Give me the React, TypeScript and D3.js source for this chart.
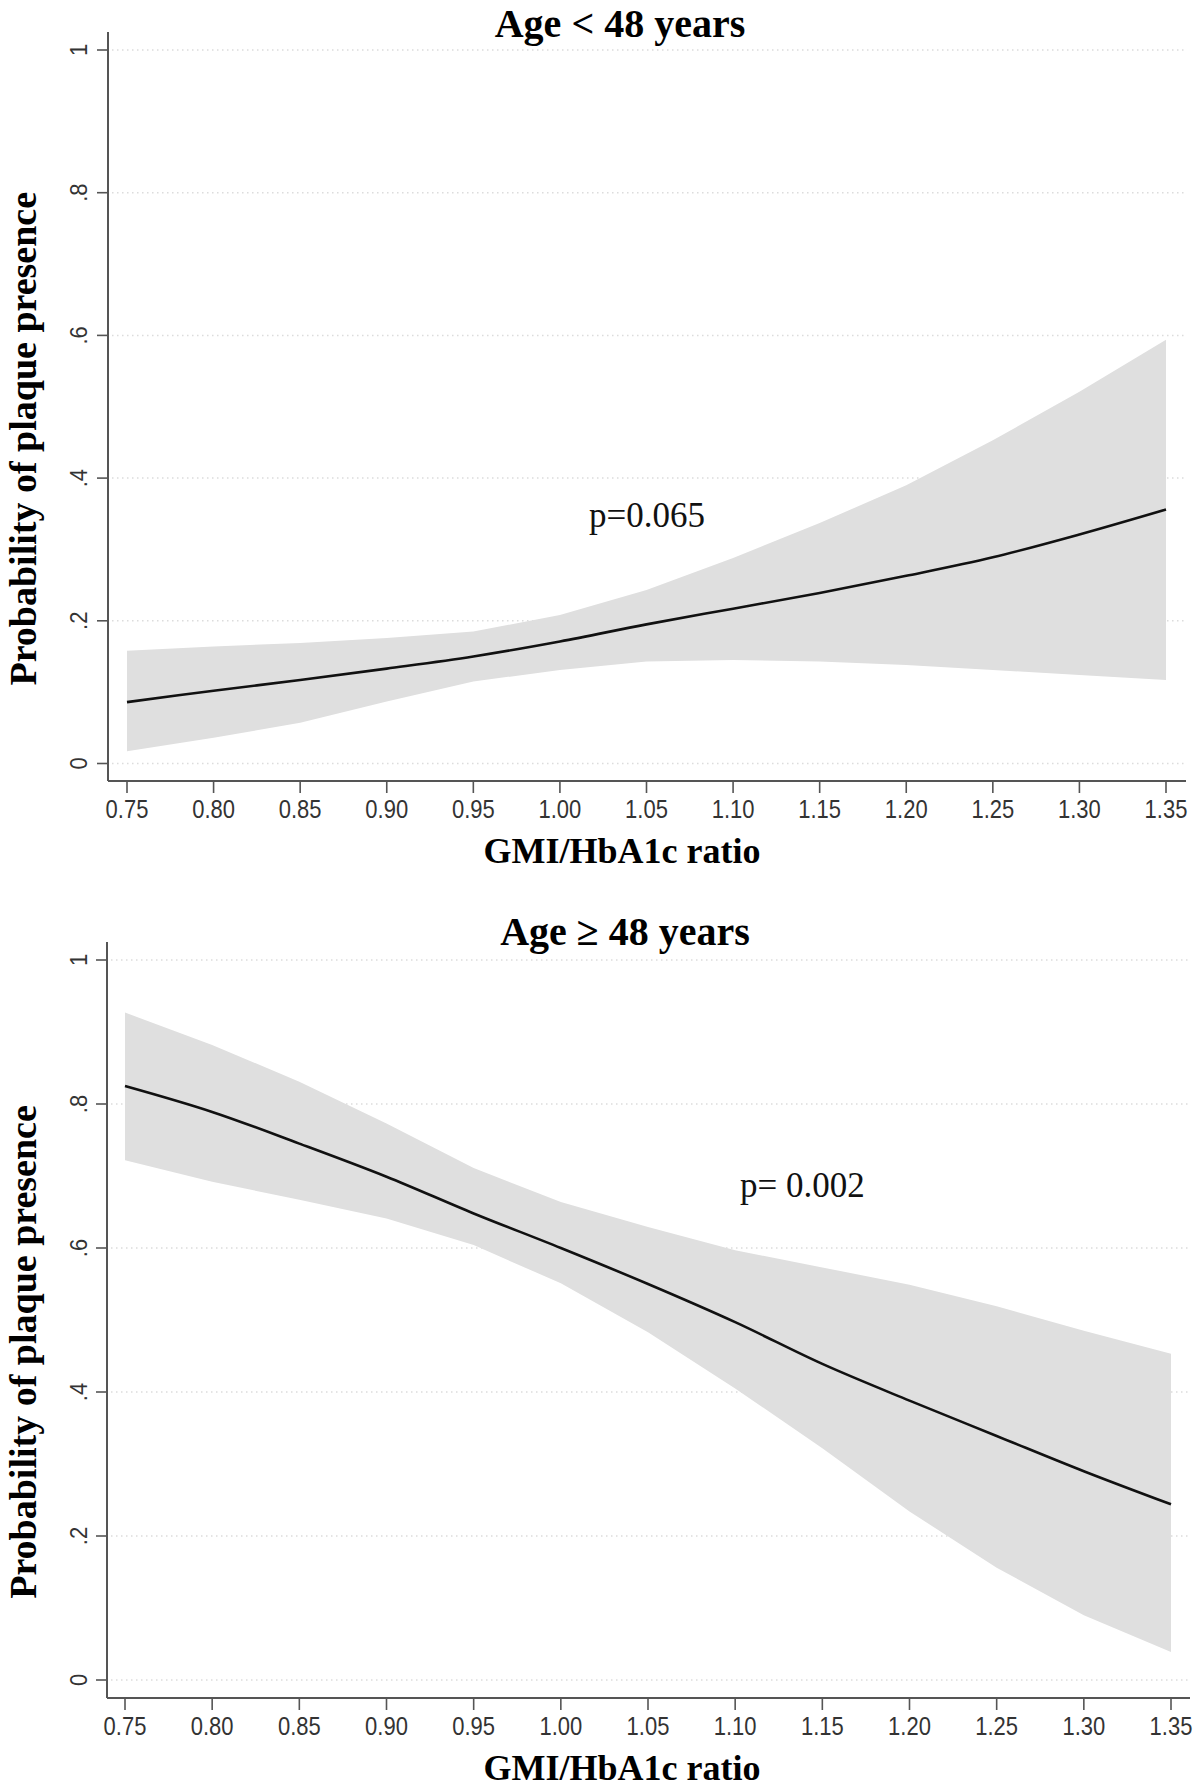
import React from 'react';
import * as d3 from 'd3';

// GMI/HbA1c ratio values where the predictions are read
const ratios = [0.75, 0.8, 0.85, 0.9, 0.95, 1.0, 1.05, 1.1, 1.15, 1.2, 1.25, 1.3, 1.35];
const xTicks = ratios;
const yTicks = [0, 0.2, 0.4, 0.6, 0.8, 1];
const yTickLabels = ['0', '.2', '.4', '.6', '.8', '1'];

// Age < 48 years
const youngFit = [0.086, 0.102, 0.117, 0.133, 0.150, 0.171, 0.195, 0.217, 0.239, 0.263, 0.289, 0.321, 0.356];
const youngUpper = [0.158, 0.164, 0.169, 0.176, 0.185, 0.208, 0.243, 0.288, 0.337, 0.390, 0.453, 0.521, 0.594];
const youngLower = [0.017, 0.036, 0.057, 0.087, 0.115, 0.131, 0.143, 0.145, 0.143, 0.138, 0.131, 0.124, 0.117];

// Age >= 48 years
const oldFit = [0.825, 0.789, 0.745, 0.699, 0.648, 0.600, 0.550, 0.497, 0.439, 0.388, 0.339, 0.290, 0.244];
const oldUpper = [0.927, 0.882, 0.831, 0.773, 0.711, 0.664, 0.629, 0.597, 0.573, 0.549, 0.519, 0.485, 0.453];
const oldLower = [0.722, 0.692, 0.667, 0.641, 0.604, 0.551, 0.483, 0.405, 0.322, 0.234, 0.156, 0.090, 0.039];

const SANS = 'Liberation Sans, Arial, Helvetica, sans-serif';
const SERIF = 'Liberation Serif, Times New Roman, serif';

interface Layout {
    y1: number; y0: number; axisTop: number; axisY: number;
    xLeft: number; xRight: number; axisX: number; axisRight: number;
    titleX: number; titleY: number;
    pX: number; pY: number;
}

interface PanelProps {
    title: string;
    pText: string;
    fit: number[];
    upper: number[];
    lower: number[];
    l: Layout;
}

const Panel: React.FC<PanelProps> = ({ title, pText, fit, upper, lower, l }) => {
    const x = d3.scaleLinear().domain([0.75, 1.35]).range([l.xLeft, l.xRight]);
    const y = d3.scaleLinear().domain([0, 1]).range([l.y0, l.y1]);

    const band = d3.area<number>()
        .x((d, i) => x(ratios[i]))
        .y0((d, i) => y(lower[i]))
        .y1((d) => y(d));

    const line = d3.line<number>()
        .x((d, i) => x(ratios[i]))
        .y((d) => y(d))
        .curve(d3.curveCatmullRom);

    const midY = (l.y0 + l.y1) / 2 + 32;

    return (
        <g>
            {/* dotted grid */}
            {yTicks.map(t => (
                <line key={'g' + t} x1={l.axisX + 4} x2={l.axisRight} y1={y(t)} y2={y(t)}
                    stroke="#dcdcdc" strokeWidth={1.5} strokeDasharray="1.5 3.5" />
            ))}

            <path d={band(upper) || ''} fill="#dfdfdf" />
            <path d={line(fit) || ''} fill="none" stroke="#111" strokeWidth={2.6} />

            {/* axes */}
            <line x1={l.axisX} x2={l.axisX} y1={l.axisTop} y2={l.axisY} stroke="#555" strokeWidth={2} />
            <line x1={l.axisX} x2={l.axisRight} y1={l.axisY} y2={l.axisY} stroke="#555" strokeWidth={2} />

            {yTicks.map((t, i) => (
                <g key={'y' + t}>
                    <line x1={l.axisX - 11} x2={l.axisX} y1={y(t)} y2={y(t)} stroke="#555" strokeWidth={1.6} />
                    <text transform={`translate(78,${y(t)}) rotate(-90) scale(1,1.1)`} textAnchor="middle" dy="0.36em"
                        fontFamily={SANS} fontSize={22} fill="#333">{yTickLabels[i]}</text>
                </g>
            ))}

            {xTicks.map(t => (
                <g key={'x' + t}>
                    <line x1={x(t)} x2={x(t)} y1={l.axisY} y2={l.axisY + 12} stroke="#555" strokeWidth={1.6} />
                    <text transform={`translate(${x(t)},${l.axisY + 37}) scale(1,1.15)`} textAnchor="middle"
                        fontFamily={SANS} fontSize={22} fill="#333">{t.toFixed(2)}</text>
                </g>
            ))}

            <text x={l.titleX} y={l.titleY} textAnchor="middle" fontFamily={SERIF} fontWeight="bold"
                fontSize={40} fill="#000">{title}</text>

            <text x={622} y={l.axisY + 82} textAnchor="middle" fontFamily={SERIF} fontWeight="bold"
                fontSize={36} fill="#000">GMI/HbA1c ratio</text>

            <text transform={`translate(36,${midY}) rotate(-90)`} textAnchor="middle" fontFamily={SERIF}
                fontWeight="bold" fontSize={38} fill="#000">Probability of plaque presence</text>

            <text x={l.pX} y={l.pY} fontFamily={SERIF} fontSize={35} fill="#111">{pText}</text>
        </g>
    );
};

const topLayout: Layout = {
    y1: 50, y0: 763.5, axisTop: 32, axisY: 781,
    xLeft: 127, xRight: 1166, axisX: 108, axisRight: 1186,
    titleX: 620, titleY: 37, pX: 589, pY: 527,
};

const bottomLayout: Layout = {
    y1: 960, y0: 1680, axisTop: 942, axisY: 1698,
    xLeft: 125, xRight: 1171, axisX: 107, axisRight: 1190,
    titleX: 625, titleY: 945, pX: 740, pY: 1197,
};

export default function App() {
    return (
        <div style={{ position: 'absolute', left: 0, top: 0 }}>
            <svg width={1200} height={1791} style={{ display: 'block', background: '#fff' }}>
                <Panel title="Age < 48 years" pText="p=0.065" fit={youngFit} upper={youngUpper} lower={youngLower} l={topLayout} />
                <Panel title="Age ≥ 48 years" pText="p= 0.002" fit={oldFit} upper={oldUpper} lower={oldLower} l={bottomLayout} />
            </svg>
        </div>
    );
}
